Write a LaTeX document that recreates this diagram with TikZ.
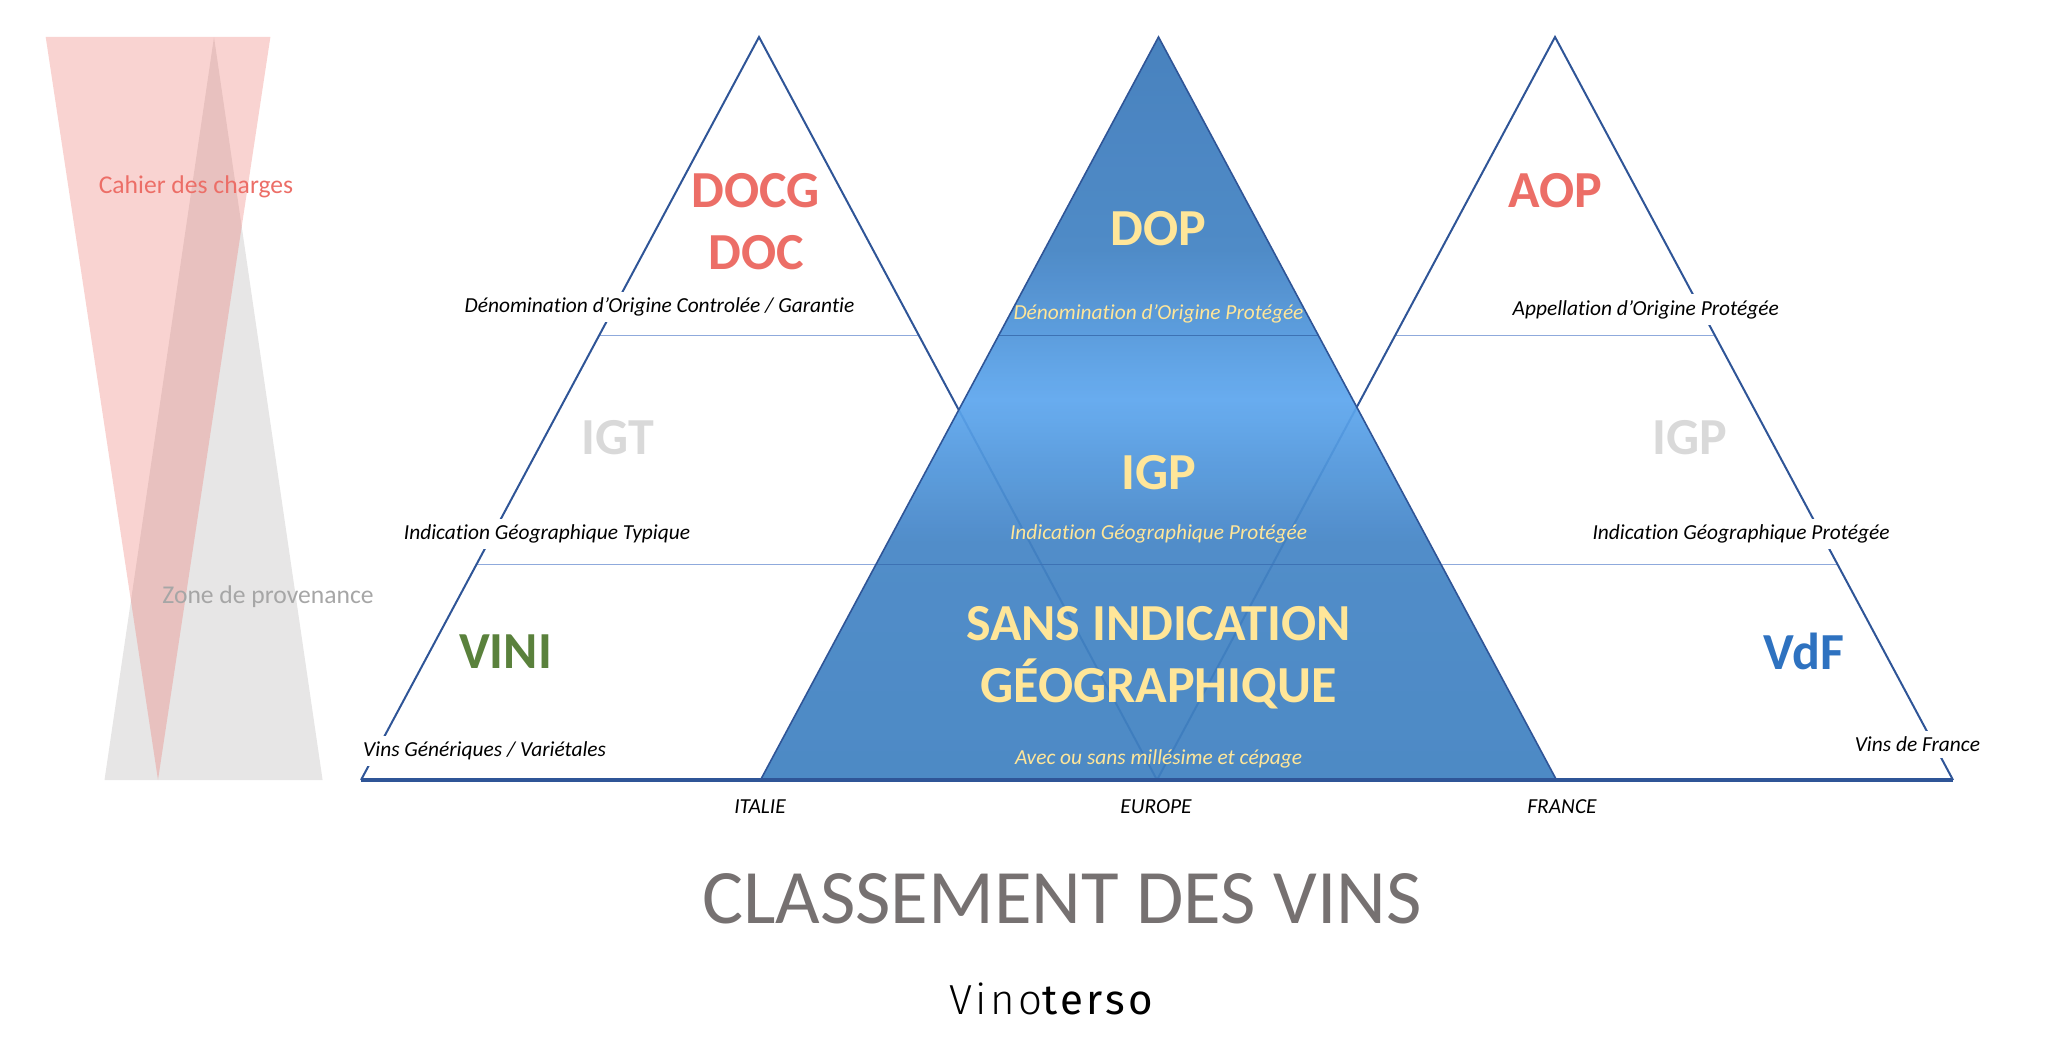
\documentclass[tikz,border=0pt]{standalone}
\usepackage{fontspec}
\setmainfont{Carlito}[Ligatures=NoCommon]
\newfontfamily\vinofont{Fira Sans Light}[LetterSpace=8]
\newfontfamily\vinobold{Fira Sans}[LetterSpace=8]
\usetikzlibrary{calc}
\definecolor{navy}{HTML}{2F5597}
\definecolor{divline}{HTML}{8FAADC}
\definecolor{salmon}{HTML}{EC6E67}
\definecolor{hgray}{HTML}{E7E6E6}
\definecolor{zonegray}{HTML}{A6A6A6}
\definecolor{ltgray}{HTML}{D9D9D9}
\definecolor{olive}{HTML}{5A813C}
\definecolor{vdfblue}{HTML}{2E72C0}
\definecolor{yel}{HTML}{FFE699}
\definecolor{titlegray}{HTML}{767171}
\definecolor{btop}{HTML}{3A79B9}
\definecolor{bupper}{HTML}{4282C3}
\definecolor{blight}{HTML}{5CA6EE}
\definecolor{bmid}{HTML}{4484C5}
\definecolor{bbot}{HTML}{4081C1}
\definecolor{bdiv}{HTML}{3D72B4}
\pgfdeclareverticalshading{bluegrad}{100bp}{color(0bp)=(bbot); color(25bp)=(bbot); color(41bp)=(bmid); color(50.6bp)=(blight); color(60.7bp)=(bupper); color(75bp)=(btop); color(100bp)=(btop)}
\tikzset{
  big/.style={font=\fontsize{26}{31}\selectfont\bfseries, align=center, inner sep=0pt},
  sub/.style={font=\fontsize{10.7}{13}\selectfont\itshape, inner sep=0pt},
  subw/.style={sub, fill=white, inner sep=3pt},
  side/.style={draw=navy, line width=1pt},
  divider/.style={draw=divline, line width=0.7pt},
}
\begin{document}
\begin{tikzpicture}[x=0.5pt,y=-0.5pt]
\useasboundingbox (0,0) rectangle (2048,1043);

% left hourglass
\fill[hgray] (104.5,780) -- (214,37) -- (322.6,780) -- cycle;
\fill[salmon, fill opacity=0.3] (45.7,37) -- (270.4,37) -- (158,780) -- cycle;
\node[font=\fontsize{12.8}{15}\selectfont, text=salmon] (cahier) at (196,187) {Cahier des charges};
\node[font=\fontsize{12.8}{15}\selectfont, text=zonegray] (zone) at (268,597) {Zone de provenance};

% triangle corners
\coordinate (ItA) at (759,37);   \coordinate (ItL) at (361,780);   \coordinate (ItR) at (1157,780);
\coordinate (EuA) at (1158.5,37);\coordinate (EuL) at (760.5,780); \coordinate (EuR) at (1556.5,780);
\coordinate (FrA) at (1555,37);  \coordinate (FrL) at (1157,780);  \coordinate (FrR) at (1953,780);

% Italy and France outlines and dividers
\draw[divider] ($(ItA)!0.402!(ItL)$) -- ($(ItA)!0.402!(ItR)$);
\draw[divider] ($(ItA)!0.7096!(ItL)$) -- ($(ItA)!0.7096!(ItR)$);
\draw[divider] ($(FrA)!0.402!(FrL)$) -- ($(FrA)!0.402!(FrR)$);
\draw[divider] ($(FrA)!0.7096!(FrL)$) -- ($(FrA)!0.7096!(FrR)$);
\draw[side] (ItL) -- (ItA) -- (ItR);
\draw[side] (FrL) -- (FrA) -- (FrR);

% Europe triangle
\shade[shading=bluegrad, fill opacity=0.93] (EuL) -- (EuA) -- (EuR) -- cycle;
\draw[bdiv, line width=0.7pt] ($(EuA)!0.402!(EuL)$) -- ($(EuA)!0.402!(EuR)$);
\draw[bdiv, line width=0.7pt] ($(EuA)!0.7096!(EuL)$) -- ($(EuA)!0.7096!(EuR)$);
\draw[navy, line width=0.8pt, line join=miter] (EuL) -- (EuA) -- (EuR);
\draw[navy, line width=1.6pt] (ItL) -- (FrR);

% Italy texts
\node[big, text=salmon] (docg) at (756,222) {DOCG\\DOC};
\node[subw] (docgsub) at (659.5,307) {Dénomination d’Origine Controlée / Garantie};
\node[big, text=ltgray] (igt) at (618,437.5) {IGT};
\node[subw] (igtsub) at (547,534) {Indication Géographique Typique};
\node[big, text=olive] (vini) at (505.5,651.7) {VINI};
\node[subw] (vinisub) at (484.6,751) {Vins Génériques / Variétales};
\node[sub] (italie) at (760,807) {ITALIE};

% Europe texts
\node[big, text=yel] (dop) at (1158.5,228.6) {DOP};
\node[sub, text=yel] (dopsub) at (1158.5,313.5) {Dénomination d’Origine Protégée};
\node[big, text=yel] (igpeu) at (1158.5,472.8) {IGP};
\node[sub, text=yel] (igpeusub) at (1158.5,534) {Indication Géographique Protégée};
\node[big, text=yel] (sig) at (1158.5,657.6) {SANS INDICATION\\GÉOGRAPHIQUE};
\node[sub, text=yel] (sigsub) at (1158.5,758.8) {Avec ou sans millésime et cépage};
\node[sub] (europe) at (1156,807) {EUROPE};

% France texts
\node[big, text=salmon] (aop) at (1555.6,190.7) {AOP};
\node[subw] (aopsub) at (1645.7,309.5) {Appellation d’Origine Protégée};
\node[big, text=ltgray] (igpfr) at (1690,437.5) {IGP};
\node[subw] (igpfrsub) at (1741,534) {Indication Géographique Protégée};
\node[big, text=vdfblue] (vdf) at (1803.7,651.7) {VdF};
\node[subw] (vdfsub) at (1917.4,744.5) {Vins de France};
\node[sub] (france) at (1562,807) {FRANCE};

% titles
\node[font=\fontsize{38.5}{44}\selectfont, text=titlegray] (title) at (1062,898.6) {CLASSEMENT DES VINS};
\node[font=\fontsize{21}{25}\selectfont] (brand) at (1051.4,999) {\vinofont Vino\vinobold terso};
\end{tikzpicture}
\end{document}
